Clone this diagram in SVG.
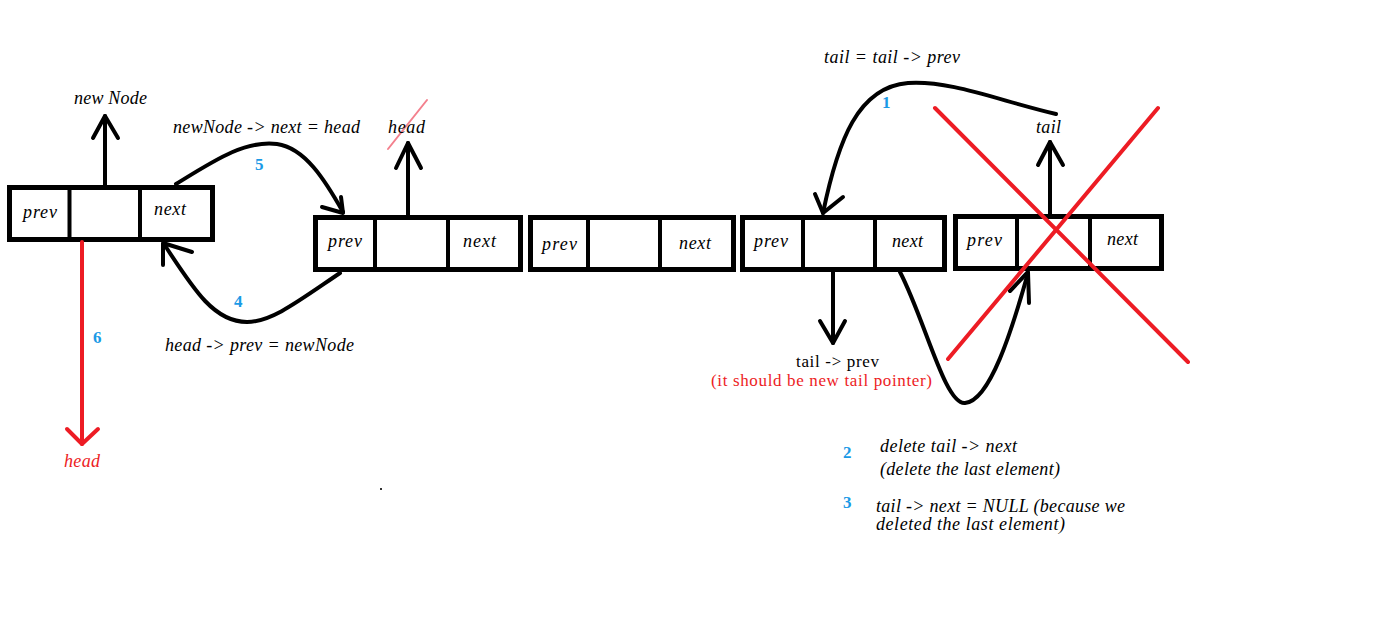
<svg xmlns="http://www.w3.org/2000/svg" width="1400" height="625" viewBox="0 0 1400 625">
<style>
.box{fill:#fff;stroke:#000;stroke-width:5}
.div{stroke:#000;stroke-width:4}
.it{font-family:"Liberation Serif","Times New Roman",serif;font-style:italic;font-size:18px;fill:#000}
.cell{font-family:"Liberation Serif","Times New Roman",serif;font-style:italic;font-size:18px;fill:#000}
.rm{font-family:"Liberation Serif","Times New Roman",serif;font-size:17px}
.num{font-family:"Liberation Serif","Times New Roman",serif;font-weight:bold;font-size:17px;fill:#1a9ae6}
.k{fill:none;stroke:#000;stroke-width:4;stroke-linecap:round;stroke-linejoin:round}
.r{fill:none;stroke:#ed1c24;stroke-width:4;stroke-linecap:round;stroke-linejoin:round}
</style>
<rect width="1400" height="625" fill="#fff"/>

<g id="node-new">
<rect class="box" x="9.5" y="187.5" width="203" height="52"/>
<line class="div" x1="69.5" y1="187" x2="69.5" y2="240"/>
<line class="div" x1="140" y1="187" x2="140" y2="240"/>
<text class="cell" x="23" y="218" textLength="34">prev</text>
<text class="cell" x="154" y="215" textLength="32">next</text>
</g>

<g id="node-head">
<rect class="box" x="315.5" y="217.5" width="205" height="52"/>
<line class="div" x1="375" y1="217" x2="375" y2="270"/>
<line class="div" x1="448" y1="217" x2="448" y2="270"/>
<text class="cell" x="328" y="247" textLength="34">prev</text>
<text class="cell" x="463" y="247" textLength="33">next</text>
</g>

<g id="node-3">
<rect class="box" x="530.5" y="217.5" width="203" height="52"/>
<line class="div" x1="588" y1="217" x2="588" y2="270"/>
<line class="div" x1="660" y1="217" x2="660" y2="270"/>
<text class="cell" x="542" y="250" textLength="35">prev</text>
<text class="cell" x="679" y="249" textLength="32">next</text>
</g>

<g id="node-4">
<rect class="box" x="742.5" y="217.5" width="202" height="52"/>
<line class="div" x1="803" y1="217" x2="803" y2="270"/>
<line class="div" x1="875" y1="217" x2="875" y2="270"/>
<text class="cell" x="754" y="247" textLength="34">prev</text>
<text class="cell" x="892" y="247" textLength="31">next</text>
</g>

<g id="node-tail">
<rect class="box" x="955.5" y="216.5" width="206" height="52"/>
<line class="div" x1="1017" y1="216" x2="1017" y2="269"/>
<line class="div" x1="1090" y1="216" x2="1090" y2="269"/>
<text class="cell" x="967" y="246" textLength="35">prev</text>
<text class="cell" x="1107" y="245" textLength="31">next</text>
</g>

<g id="connectors">
<line class="k" x1="105" y1="185" x2="105" y2="116"/>
<polyline class="k" points="93,138 105,116 118,138"/>
<line class="k" x1="408" y1="215" x2="408" y2="143"/>
<polyline class="k" points="396,168 408,143 421,168"/>
<path class="k" d="M176,184 C 215,160 245,140 277,144 C 305,148 325,180 343,212"/>
<polyline class="k" points="322,207 343,213 341,197"/>
<path class="k" d="M340,273 C 300,300 272,322 247,322 C 215,322 195,292 164,244"/>
<polyline class="k" points="163,265 163,243 192,252"/>
<line class="r" x1="82" y1="242" x2="82" y2="444"/>
<polyline class="r" points="67,429 82,444 98,429"/>
<line class="k" x1="1050" y1="214" x2="1050" y2="142"/>
<polyline class="k" points="1038,165 1050,142 1063,165"/>
<path class="k" d="M1056,114 C 1000,101 950,80 908,83 C 858,87 838,140 823,213"/>
<polyline class="k" points="815,194 823,213 843,197"/>
<line class="k" x1="833" y1="272" x2="833" y2="343"/>
<polyline class="k" points="820,321 833,343 845,321"/>
<path class="k" d="M900,272 C 925,320 945,405 965,403 C 990,401 1012,330 1028,273"/>
<polyline class="k" points="1010,291 1028,272 1029,303"/>
<line class="r" x1="935" y1="108" x2="1188" y2="362"/>
<line class="r" x1="1158" y1="108" x2="948" y2="359"/>
<line x1="388" y1="149" x2="427" y2="100" stroke="#f06070" stroke-width="2" stroke-opacity="0.8" stroke-linecap="round"/>
</g>

<g id="labels">
<text class="it" x="74" y="104" textLength="73">new Node</text>
<text class="it" x="173" y="133" textLength="187">newNode -&gt; next = head</text>
<text class="num" x="255" y="170">5</text>
<text class="it" x="388" y="133" textLength="37">head</text>
<text class="num" x="234" y="307">4</text>
<text class="it" x="165" y="351" textLength="189">head -&gt; prev = newNode</text>
<text class="num" x="93" y="343">6</text>
<text class="it" x="64" y="467" style="fill:#ed1c24" textLength="36">head</text>
<rect x="380" y="488" width="2" height="2" fill="#333"/>
<text class="it" x="824" y="63" textLength="136">tail = tail -&gt; prev</text>
<text class="num" x="882" y="108">1</text>
<text class="it" x="1036" y="133" textLength="25">tail</text>
<text class="rm" x="796" y="367" fill="#000" textLength="83">tail -&gt; prev</text>
<text class="rm" x="711" y="386" fill="#ed1c24" textLength="221">(it should be new tail pointer)</text>
<text class="num" x="843" y="458">2</text>
<text class="it" x="880" y="452" textLength="137">delete tail -&gt; next</text>
<text class="it" x="880" y="475" textLength="180">(delete the last element)</text>
<text class="num" x="843" y="508">3</text>
<text class="it" x="876" y="512" textLength="249">tail -&gt; next = NULL (because we</text>
<text class="it" x="876" y="530" textLength="189">deleted the last element)</text>
</g>
</svg>
